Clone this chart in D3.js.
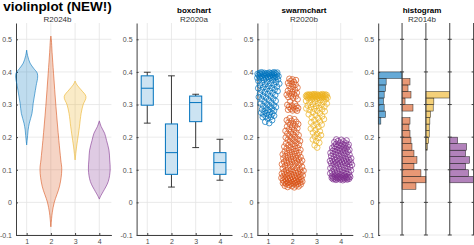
<!DOCTYPE html>
<html>
<head>
<meta charset="utf-8">
<script src="https://cdn.jsdelivr.net/npm/d3@7"></script>
<style>
body { margin: 0; background: #fff; }
text { font-family: "Liberation Sans", Arial, sans-serif; }
</style>
</head>
<body>
<div id="chart"></div>
<script>
var groups = [1, 2, 3, 4];
var colors = ["#0072bd", "#d95319", "#edb120", "#7e2f8e"];
var yTicks = [-0.1, 0, 0.1, 0.2, 0.3, 0.4, 0.5];
var yTickLabels = ["-0.1", "0", "0.1", "0.2", "0.3", "0.4", "0.5"];
var panelTitles = ["violinplot (NEW!)", "boxchart", "swarmchart", "histogram"];
var panelReleases = ["R2024b", "R2020a", "R2020b", "R2014b"];

// violin outlines, [value, half width in category units]
var violin1 = [[0.176, 0], [0.19, 0.02], [0.205, 0.04], [0.222, 0.06], [0.243, 0.11], [0.273, 0.22], [0.304, 0.27], [0.335, 0.34], [0.365, 0.41], [0.38, 0.45], [0.396, 0.44], [0.41, 0.3], [0.427, 0.14], [0.45, 0.04], [0.467, 0]];
var violin2 = [[-0.075, 0], [-0.05, 0.03], [-0.03, 0.06], [0, 0.14], [0.05, 0.36], [0.1, 0.45], [0.13, 0.41], [0.19, 0.33], [0.294, 0.21], [0.396, 0.11], [0.46, 0.05], [0.498, 0.02], [0.51, 0]];
var violin3 = [[0.13, 0], [0.15, 0.03], [0.17, 0.06], [0.19, 0.1], [0.232, 0.18], [0.273, 0.25], [0.299, 0.33], [0.324, 0.45], [0.345, 0.25], [0.36, 0.08], [0.372, 0]];
var violin4 = [[0.01, 0], [0.02, 0.06], [0.033, 0.16], [0.064, 0.37], [0.1, 0.45], [0.13, 0.43], [0.16, 0.4], [0.19, 0.3], [0.212, 0.22], [0.232, 0.08], [0.25, 0]];

// boxchart statistics per group
var boxLow = [0.243, 0.047, 0.168, 0.068];
var boxQ1 = [0.298, 0.086, 0.2475, 0.086];
var boxMedian = [0.35, 0.1525, 0.306, 0.122];
var boxQ3 = [0.388, 0.2405, 0.326, 0.1525];
var boxHigh = [0.399, 0.388, 0.3315, 0.1935];

// samples shown by swarmchart and histogram
var sample1 = [0.243, 0.247, 0.252, 0.257,
    0.261, 0.262, 0.264, 0.266, 0.268, 0.270, 0.272, 0.273, 0.275, 0.277, 0.279,
    0.281, 0.283, 0.285, 0.288, 0.290, 0.292, 0.294, 0.296, 0.298,
    0.301, 0.303, 0.306, 0.309, 0.311, 0.313, 0.316, 0.318,
    0.321, 0.323, 0.325, 0.327, 0.329, 0.332, 0.334, 0.336, 0.338,
    0.341, 0.342, 0.344, 0.346, 0.348, 0.350, 0.351, 0.353, 0.355, 0.357, 0.359,
    0.361, 0.362, 0.364, 0.365, 0.367, 0.369, 0.370, 0.372, 0.374, 0.375, 0.377, 0.379,
    0.380, 0.381, 0.381, 0.382, 0.383, 0.383, 0.384, 0.385, 0.385, 0.386, 0.387, 0.387,
    0.388, 0.388, 0.389, 0.390, 0.390, 0.391, 0.391, 0.392, 0.392, 0.393, 0.393, 0.394,
    0.394, 0.395, 0.395, 0.396, 0.396, 0.397, 0.397, 0.397, 0.398, 0.398, 0.399, 0.399];
var sample2 = [0.046, 0.047, 0.049, 0.050, 0.051, 0.052, 0.053, 0.055, 0.056, 0.057, 0.057, 0.058, 0.059, 0.059,
    0.060, 0.061, 0.061, 0.062, 0.063, 0.064, 0.064, 0.065, 0.066, 0.067, 0.067, 0.068,
    0.069, 0.070, 0.071, 0.071, 0.072, 0.073, 0.074, 0.075, 0.076, 0.077, 0.078, 0.079,
    0.080, 0.081, 0.083, 0.083, 0.084, 0.086, 0.086, 0.087, 0.088, 0.090, 0.090, 0.091,
    0.093, 0.093, 0.094, 0.096, 0.097, 0.098, 0.099,
    0.101, 0.102, 0.104, 0.105, 0.107, 0.109, 0.110, 0.112, 0.114, 0.115, 0.117, 0.119,
    0.120, 0.121, 0.123, 0.124, 0.125, 0.126, 0.128, 0.129, 0.130, 0.132, 0.133, 0.135, 0.136, 0.138, 0.139,
    0.141, 0.142, 0.144, 0.146, 0.147, 0.149, 0.151, 0.152, 0.154, 0.156, 0.157, 0.159,
    0.161, 0.163, 0.165, 0.167, 0.168, 0.171, 0.173, 0.175, 0.177, 0.179,
    0.181, 0.183, 0.186, 0.188, 0.190, 0.192, 0.194, 0.197, 0.199,
    0.201, 0.204, 0.206, 0.209, 0.211, 0.214, 0.216, 0.219,
    0.222, 0.224, 0.227, 0.230, 0.233, 0.235, 0.238,
    0.240, 0.242, 0.245, 0.247, 0.250, 0.252, 0.255, 0.258,
    0.281, 0.282, 0.284, 0.285, 0.287, 0.289, 0.291, 0.293, 0.295, 0.297, 0.299,
    0.303, 0.309, 0.316,
    0.321, 0.323, 0.325, 0.327, 0.330, 0.332, 0.334, 0.336, 0.339,
    0.342, 0.345, 0.348, 0.352, 0.355, 0.358,
    0.361, 0.364, 0.366, 0.369, 0.372, 0.375, 0.377, 0.379];
var sample3 = [0.168, 0.175,
    0.183, 0.188, 0.193, 0.198,
    0.202, 0.206, 0.210, 0.214, 0.218,
    0.222, 0.226, 0.231, 0.235, 0.238,
    0.241, 0.245, 0.248, 0.252, 0.255, 0.258,
    0.261, 0.264, 0.267, 0.270, 0.273, 0.276, 0.279,
    0.281, 0.283, 0.285, 0.287, 0.288, 0.290, 0.292, 0.294, 0.295, 0.297, 0.299,
    0.301, 0.303, 0.304, 0.306, 0.308, 0.309, 0.311, 0.313, 0.314, 0.316, 0.317, 0.319,
    0.320, 0.320, 0.321, 0.321, 0.322, 0.322, 0.323, 0.323, 0.323, 0.324, 0.324, 0.325,
    0.325, 0.325, 0.326, 0.326, 0.326, 0.327, 0.327, 0.327, 0.328, 0.328, 0.328, 0.329,
    0.329, 0.329, 0.330, 0.330, 0.330, 0.330, 0.331, 0.331, 0.331, 0.331, 0.332, 0.332];
var sample4 = [0.068, 0.069, 0.070, 0.070, 0.071, 0.071, 0.072, 0.072, 0.073, 0.073, 0.074, 0.074,
    0.075, 0.075, 0.076, 0.076, 0.077, 0.077, 0.078, 0.078, 0.078, 0.079, 0.079, 0.079,
    0.080, 0.081, 0.082, 0.083, 0.083, 0.085, 0.086, 0.087, 0.088, 0.089, 0.090, 0.091,
    0.092, 0.094, 0.094, 0.095, 0.096, 0.098, 0.099,
    0.101, 0.102, 0.103, 0.105, 0.106, 0.107, 0.109, 0.110, 0.111, 0.112, 0.114, 0.115, 0.116, 0.117, 0.118, 0.119,
    0.120, 0.121, 0.122, 0.123, 0.124, 0.125, 0.125, 0.126, 0.127, 0.128, 0.129, 0.130,
    0.131, 0.132, 0.133, 0.134, 0.135, 0.136, 0.138, 0.139,
    0.141, 0.142, 0.143, 0.145, 0.146, 0.147, 0.148, 0.150, 0.151, 0.152, 0.153, 0.155, 0.156, 0.157, 0.158, 0.159,
    0.160, 0.161, 0.162, 0.164, 0.165, 0.166, 0.167, 0.168, 0.170, 0.171, 0.172, 0.173, 0.175, 0.176, 0.177, 0.178, 0.179,
    0.181, 0.183, 0.185, 0.187, 0.188, 0.190, 0.192, 0.193];
var binEdges = [0.04, 0.06, 0.08, 0.10, 0.12, 0.14, 0.16, 0.18, 0.20, 0.22, 0.24, 0.26, 0.28, 0.30, 0.32, 0.34, 0.36, 0.38, 0.40];

var violins = [violin1, violin2, violin3, violin4];
var samples = [sample1, sample2, sample3, sample4];

var chartW = 474, chartH = 245;
var panelLeft = [16, 136.6, 257.4, 378.2];
var panelW = 95.4;
var titleX = [57.5, 194, 304, 422];
var axisColor = "#404040", gridColor = "#e4e4e4", labelColor = "#4d4d4d";

var y = d3.scaleLinear().domain([-0.1, 0.55]).range([235, 23]);

var svg = d3.select("#chart").append("svg")
    .attr("width", chartW)
    .attr("height", chartH);

function categoryScale(i) {
    return d3.scaleLinear().domain([0.56, 4.5]).range([panelLeft[i], panelLeft[i] + panelW]);
}

function drawTitle(i) {
    svg.append("text")
        .attr("x", titleX[i]).attr("y", i === 0 ? 11 : 12.5)
        .attr("text-anchor", "middle")
        .style("font-size", i === 0 ? "13.5px" : "8px").style("font-weight", "bold")
        .attr("fill", "#000")
        .text(panelTitles[i]);
    svg.append("text")
        .attr("x", titleX[i]).attr("y", 21.5)
        .attr("text-anchor", "middle")
        .style("font-size", "8px")
        .attr("fill", "#333")
        .text(panelReleases[i]);
}

function drawYAxis(g, left, showLabels) {
    var axis = d3.axisLeft(y)
        .tickValues(yTicks)
        .tickFormat(function (d, k) { return showLabels ? yTickLabels[k] : ""; })
        .tickSizeInner(-2)
        .tickSizeOuter(0)
        .tickPadding(4);
    var a = g.append("g")
        .attr("transform", "translate(" + left + ",0)")
        .call(axis);
    a.select(".domain").attr("stroke", axisColor);
    a.selectAll(".tick line").attr("stroke", axisColor);
    a.selectAll(".tick text").attr("fill", labelColor).style("font-size", "7px").style("font-family", "Liberation Sans, Arial, sans-serif");
    return a;
}

function drawCategoryFrame(i) {
    var x = categoryScale(i);
    var g = svg.append("g").attr("class", "panel");

    // grid
    g.selectAll(".hgrid")
        .data(yTicks)
        .enter().append("line")
        .attr("x1", panelLeft[i]).attr("x2", panelLeft[i] + panelW)
        .attr("y1", function (d) { return y(d); }).attr("y2", function (d) { return y(d); })
        .attr("stroke", gridColor).attr("stroke-width", 0.8);
    g.selectAll(".vgrid")
        .data(groups)
        .enter().append("line")
        .attr("x1", function (d) { return x(d); }).attr("x2", function (d) { return x(d); })
        .attr("y1", y(0.55)).attr("y2", y(-0.1))
        .attr("stroke", gridColor).attr("stroke-width", 0.8);

    var xAxis = d3.axisBottom(x)
        .tickValues(groups)
        .tickFormat(d3.format("d"))
        .tickSizeInner(-2)
        .tickSizeOuter(0)
        .tickPadding(4.5);
    var a = g.append("g")
        .attr("transform", "translate(0," + y(-0.1) + ")")
        .call(xAxis);
    a.select(".domain").attr("stroke", axisColor);
    a.selectAll(".tick line").attr("stroke", axisColor);
    a.selectAll(".tick text").attr("fill", labelColor).style("font-size", "7px").style("font-family", "Liberation Sans, Arial, sans-serif");

    drawYAxis(g, panelLeft[i], true);
    return { g: g, x: x };
}

// violinplot
function drawViolins() {
    var p = drawCategoryFrame(0);
    violins.forEach(function (v, k) {
        var c = groups[k];
        var area = d3.area()
            .y(function (d) { return y(d[0]); })
            .x0(function (d) { return p.x(c - d[1]); })
            .x1(function (d) { return p.x(c + d[1]); })
            .curve(d3.curveCatmullRom);
        p.g.append("path")
            .datum(v)
            .attr("d", area)
            .attr("fill", colors[k]).attr("fill-opacity", 0.25)
            .attr("stroke", colors[k]).attr("stroke-opacity", 0.65)
            .attr("stroke-width", 0.9);
    });
}

// boxchart
function drawBoxes() {
    var p = drawCategoryFrame(1);
    var boxW = 0.5, capW = 0.28;
    groups.forEach(function (c, k) {
        var wg = p.g.append("g");
        [[boxLow[k], boxQ1[k]], [boxQ3[k], boxHigh[k]]].forEach(function (seg) {
            wg.append("line")
                .attr("x1", p.x(c)).attr("x2", p.x(c))
                .attr("y1", y(seg[0])).attr("y2", y(seg[1]))
                .attr("stroke", "#262626").attr("stroke-width", 0.9);
        });
        [boxLow[k], boxHigh[k]].forEach(function (v) {
            wg.append("line")
                .attr("x1", p.x(c - capW / 2)).attr("x2", p.x(c + capW / 2))
                .attr("y1", y(v)).attr("y2", y(v))
                .attr("stroke", "#262626").attr("stroke-width", 0.9);
        });
        p.g.append("rect")
            .attr("x", p.x(c - boxW / 2))
            .attr("width", p.x(c + boxW / 2) - p.x(c - boxW / 2))
            .attr("y", y(boxQ3[k]))
            .attr("height", y(boxQ1[k]) - y(boxQ3[k]))
            .attr("fill", "#cce3f2")
            .attr("stroke", colors[0]).attr("stroke-width", 1);
        p.g.append("line")
            .attr("x1", p.x(c - boxW / 2)).attr("x2", p.x(c + boxW / 2))
            .attr("y1", y(boxMedian[k])).attr("y2", y(boxMedian[k]))
            .attr("stroke", colors[0]).attr("stroke-width", 1);
    });
}

// swarmchart, points spread by a smoothed local density
function drawSwarm() {
    var p = drawCategoryFrame(2);
    var bw = 0.035, jitterW = 0.95;
    samples.forEach(function (vals, k) {
        var c = groups[k];
        var dens = vals.map(function (v) {
            return d3.sum(vals, function (u) { var z = (v - u) / bw; return Math.exp(-0.5 * z * z); });
        });
        var maxD = d3.max(dens);
        p.g.selectAll(".pt" + k)
            .data(vals)
            .enter().append("circle")
            .attr("cx", function (d, j) {
                var u = ((j + 1) * 0.6180339887) % 1;
                return p.x(c + (u - 0.5) * jitterW * Math.pow(dens[j] / maxD, 0.7));
            })
            .attr("cy", function (d) { return y(d); })
            .attr("r", 2.8)
            .attr("fill", "none")
            .attr("stroke", colors[k])
            .attr("stroke-width", 0.7);
    });
}

// histogram, one slot per group, bar lengths scaled to each group's max
function drawHistograms() {
    var left = panelLeft[3];
    var slot = d3.scaleBand().domain(groups).range([left, left + panelW]);
    var g = svg.append("g");
    g.selectAll(".hgrid")
        .data(yTicks)
        .enter().append("line")
        .attr("x1", left).attr("x2", left + panelW)
        .attr("y1", function (d) { return y(d); }).attr("y2", function (d) { return y(d); })
        .attr("stroke", gridColor).attr("stroke-width", 0.8);

    var binner = d3.bin().domain([binEdges[0], binEdges[binEdges.length - 1]]).thresholds(binEdges.slice(1, -1));
    samples.forEach(function (vals, k) {
        var bins = binner(vals).filter(function (b) { return b.length > 0; });
        var len = d3.scaleLinear()
            .domain([0, d3.max(bins, function (b) { return b.length; })])
            .range([0, slot.bandwidth()]);
        g.selectAll(".bar" + k)
            .data(bins)
            .enter().append("rect")
            .attr("x", slot(groups[k]))
            .attr("y", function (b) { return y(b.x1); })
            .attr("width", function (b) { return len(b.length); })
            .attr("height", function (b) { return y(b.x0) - y(b.x1); })
            .attr("fill", colors[k]).attr("fill-opacity", 0.6)
            .attr("stroke", "#262626").attr("stroke-width", 0.5);
    });

    var edges = groups.map(function (d) { return slot(d); }).concat([left + panelW]);
    edges.forEach(function (ex, k) {
        if (k === 0) {
            drawYAxis(g, ex, true);
        } else {
            g.append("line")
                .attr("x1", ex).attr("x2", ex)
                .attr("y1", y(0.55)).attr("y2", y(-0.1))
                .attr("stroke", axisColor);
            g.selectAll(".tk" + k)
                .data(yTicks)
                .enter().append("line")
                .attr("x1", ex - 2).attr("x2", ex + 2)
                .attr("y1", function (d) { return y(d); }).attr("y2", function (d) { return y(d); })
                .attr("stroke", axisColor);
        }
    });
}

groups.forEach(function (d, i) { drawTitle(i); });
drawViolins();
drawBoxes();
drawSwarm();
drawHistograms();
</script>
</body>
</html>
